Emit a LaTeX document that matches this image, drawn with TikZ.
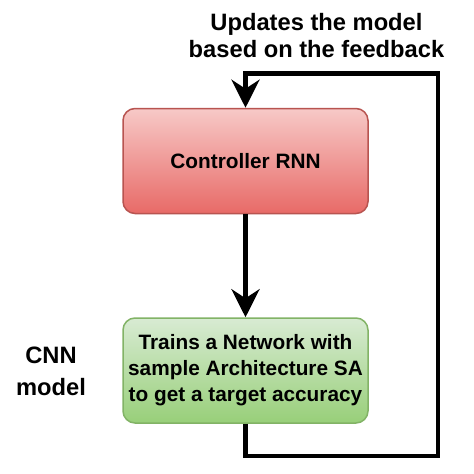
\documentclass[tikz,border=0pt]{standalone}
\usepackage{fontspec}
\setmainfont{Liberation Sans}
\usetikzlibrary{arrows.meta}
\definecolor{redtop}{HTML}{F7C9C7}
\definecolor{redbot}{HTML}{E86A67}
\definecolor{redline}{HTML}{B85450}
\definecolor{greentop}{HTML}{D8EBD3}
\definecolor{greenbot}{HTML}{98CF79}
\definecolor{greenline}{HTML}{82B366}
\tikzset{
  box/.style={rounded corners=12pt, line width=1.5pt, minimum width=245pt, minimum height=105pt, inner sep=0pt, align=center, font=\fontsize{20.8}{26}\selectfont\bfseries},
  redbox/.style={box, draw=redline, top color=redtop, bottom color=redbot},
  greenbox/.style={box, draw=greenline, top color=greentop, bottom color=greenbot},
  conn/.style={line width=4.5pt, -{Stealth[length=28pt, width=28pt, inset=9pt]}},
  lbl/.style={align=center, font=\fontsize{23.7}{27}\selectfont\bfseries, inner sep=0pt},
}
\begin{document}
\begin{tikzpicture}[x=1pt,y=-1pt]
\useasboundingbox (0,0) rectangle (474,474);
\fill[white] (0,0) rectangle (474,474);
\node[redbox] (rnn) at (245.5,161) {Controller RNN};
\node[greenbox] (cnn) at (245.5,370.5) {Trains a Network with\\sample Architecture SA\\to get a target accuracy};
\node[lbl] (upd) at (316.5,35.5) {Updates the model\\based on the feedback};
\node[lbl, font=\fontsize{23.7}{32}\selectfont\bfseries] (cnnlbl) at (51,371) {CNN\\model};
\coordinate (c1) at (245.5,456);
\coordinate (c2) at (438,456);
\coordinate (c3) at (438,73.5);
\coordinate (c4) at (245.5,73.5);
\draw[conn] (rnn.south) -- (cnn.north);
\draw[conn, line join=miter] (cnn.south) -- (c1) -- (c2) -- (c3) -- (c4) -- (rnn.north);
\end{tikzpicture}
\end{document}
